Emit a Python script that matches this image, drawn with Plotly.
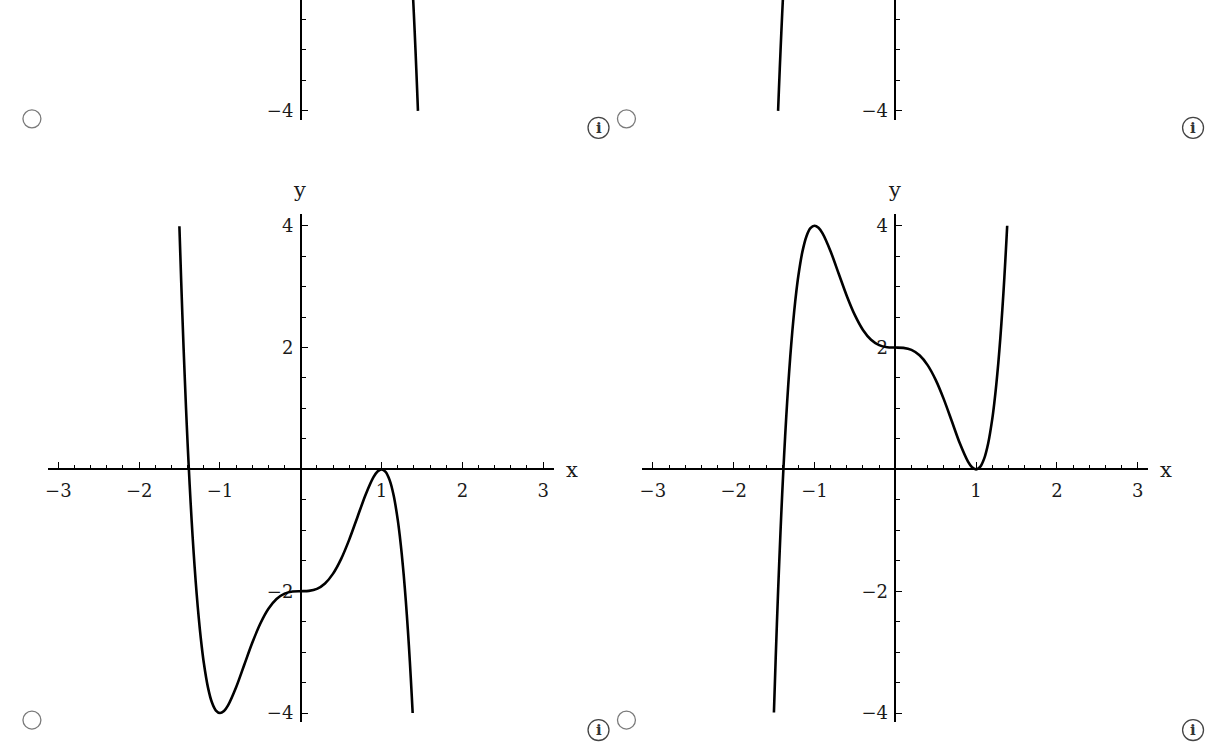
import plotly.graph_objects as go

# ---------------- data ----------------
# bottom-right panel curve
br_x = [-1.502, -1.48, -1.45, -1.42, -1.40, -1.375, -1.35, -1.325, -1.30, -1.275,
        -1.25, -1.225, -1.20, -1.15, -1.10, -1.05, -1.00, -0.95, -0.90, -0.80,
        -0.70, -0.60, -0.50, -0.40, -0.30, -0.20, -0.10, 0.0, 0.10, 0.20,
        0.30, 0.40, 0.50, 0.60, 0.70, 0.80, 0.90, 0.95, 1.00, 1.05,
        1.10, 1.15, 1.20, 1.225, 1.25, 1.275, 1.30, 1.325, 1.35, 1.375, 1.385]
br_y = [-3.99, -3.094, -1.986, -1.004, -0.415, 0.253, 0.850, 1.379, 1.846, 2.255,
        2.610, 2.916, 3.175, 3.570, 3.824, 3.959, 4.000, 3.966, 3.874, 3.577,
        3.211, 2.847, 2.531, 2.289, 2.128, 2.039, 2.005, 2.000, 1.995, 1.961,
        1.872, 1.711, 1.469, 1.153, 0.789, 0.423, 0.127, 0.034, 0.000, 0.041,
        0.177, 0.430, 0.825, 1.084, 1.390, 1.745, 2.154, 2.621, 3.150, 3.747, 4.0]

# bottom-left panel curve
bl_x = [-1.502, -1.48, -1.45, -1.42, -1.40, -1.375, -1.35, -1.325, -1.30, -1.275,
        -1.25, -1.225, -1.20, -1.15, -1.10, -1.05, -1.00, -0.95, -0.90, -0.80,
        -0.70, -0.60, -0.50, -0.40, -0.30, -0.20, -0.10, 0.0, 0.10, 0.20,
        0.30, 0.40, 0.50, 0.60, 0.70, 0.80, 0.90, 0.95, 1.00, 1.05,
        1.10, 1.15, 1.20, 1.225, 1.25, 1.275, 1.30, 1.325, 1.35, 1.375, 1.385]
bl_y = [3.99, 3.094, 1.986, 1.004, 0.415, -0.253, -0.850, -1.379, -1.846, -2.255,
        -2.610, -2.916, -3.175, -3.570, -3.824, -3.959, -4.000, -3.966, -3.874, -3.577,
        -3.211, -2.847, -2.531, -2.289, -2.128, -2.039, -2.005, -2.000, -1.995, -1.961,
        -1.872, -1.711, -1.469, -1.153, -0.789, -0.423, -0.127, -0.034, 0.000, -0.041,
        -0.177, -0.430, -0.825, -1.084, -1.390, -1.745, -2.154, -2.621, -3.150, -3.747, -4.0]

# top panels (only their lower part is visible)
tl_x = [1.36, 1.38, 1.40, 1.42, 1.44, 1.45, 1.4505]
tl_y = [-1.380, -1.874, -2.415, -3.004, -3.645, -3.986, -4.0]
tr_x = [-1.4505, -1.45, -1.44, -1.42, -1.40, -1.38, -1.36]
tr_y = [-4.0, -3.986, -3.645, -3.004, -2.415, -1.874, -1.380]

x_tick_vals = [-3, -2, -1, 1, 2, 3]
x_tick_text = ["\u22123", "\u22122", "\u22121", "1", "2", "3"]
y_tick_vals = [-4, -2, 2, 4]
y_tick_text = ["\u22124", "\u22122", "2", "4"]

# ---------------- layout geometry (pixels) ----------------
W, H = 1212, 750
PXU_X, PXU_Y = 81.0, 61.0
XR = 3.13


def fx(px):
    return px / W


def fy(py):
    return 1 - py / H


FONT = "DejaVu Serif"
TICKFONT = dict(family=FONT, size=18, color="#1a1a1a")

panels = [
    dict(ox=298.5, oy=-133.0, yr=(-4.148, -133.0 / 61.0), showx=False, xs=tl_x, ys=tl_y),
    dict(ox=894.5, oy=-133.0, yr=(-4.148, -133.0 / 61.0), showx=False, xs=tr_x, ys=tr_y),
    dict(ox=298.5, oy=470.0, yr=(-4.15, 4.2), showx=True, xs=bl_x, ys=bl_y),
    dict(ox=894.5, oy=470.0, yr=(-4.15, 4.2), showx=True, xs=br_x, ys=br_y),
]

fig = go.Figure()
layout = dict(
    width=W, height=H,
    margin=dict(l=0, r=0, t=0, b=0),
    paper_bgcolor="white", plot_bgcolor="white",
    showlegend=False,
)
annotations = []
shapes = []

for i, p in enumerate(panels, start=1):
    xn = "x" if i == 1 else f"x{i}"
    yn = "y" if i == 1 else f"y{i}"
    xkey = "xaxis" if i == 1 else f"xaxis{i}"
    ykey = "yaxis" if i == 1 else f"yaxis{i}"
    ox, oy = p["ox"], p["oy"]
    ylo, yhi = p["yr"]
    x_px0, x_px1 = ox - XR * PXU_X, ox + XR * PXU_X
    y_px_top, y_px_bot = oy - yhi * PXU_Y, oy - ylo * PXU_Y

    fig.add_trace(go.Scatter(
        x=p["xs"], y=p["ys"], mode="lines",
        line=dict(color="black", width=2.6, shape="spline", smoothing=0.8),
        xaxis=xn, yaxis=yn, hoverinfo="skip",
    ))

    xa = dict(
        domain=[fx(x_px0), fx(x_px1)], range=[-XR, XR],
        showgrid=False, zeroline=False, layer="below traces",
        fixedrange=True,
    )
    if p["showx"]:
        xa.update(
            anchor="free", position=fy(oy),
            showline=True, linecolor="black", linewidth=1.5,
            tickmode="array", tickvals=x_tick_vals, ticktext=x_tick_text,
            ticks="inside", ticklen=7, tickwidth=1, tickcolor="black",
            tickfont=TICKFONT, ticklabelstandoff=5,
            minor=dict(tickmode="linear", tick0=0, dtick=0.2, ticks="inside",
                       ticklen=4, tickwidth=1, tickcolor="black"),
        )
    else:
        xa.update(anchor=yn, visible=False)
    layout[xkey] = xa

    layout[ykey] = dict(
        domain=[fy(y_px_bot), fy(y_px_top)], range=[ylo, yhi],
        anchor="free", position=fx(ox),
        showgrid=False, zeroline=False, layer="below traces",
        showline=True, linecolor="black", linewidth=1.5,
        tickmode="array", tickvals=y_tick_vals, ticktext=y_tick_text,
        ticks="inside", ticklen=6, tickwidth=1, tickcolor="black",
        tickfont=TICKFONT, ticklabelstandoff=3,
        minor=dict(tickmode="linear", tick0=0, dtick=0.5, ticks="inside",
                   ticklen=4, tickwidth=1, tickcolor="black"),
        fixedrange=True,
    )

    if p["showx"]:
        annotations.append(dict(
            text="x", x=fx(x_px1 + 18), y=fy(oy + 1), xref="paper", yref="paper",
            xanchor="center", yanchor="middle", showarrow=False,
            font=dict(family=FONT, size=21, color="#1a1a1a"),
        ))
        annotations.append(dict(
            text="y", x=fx(ox - 1), y=fy(190), xref="paper", yref="paper",
            xanchor="center", yanchor="middle", showarrow=False,
            font=dict(family=FONT, size=21, color="#1a1a1a"),
        ))

# radio circles and info icons
radio_centers = [(29, 119), (625, 119), (29, 721), (625, 721)]
info_centers = [(597, 128), (1193, 128), (597, 731), (1193, 731)]
for cx, cy in radio_centers:
    r = 9
    shapes.append(dict(type="circle", xref="paper", yref="paper",
                       x0=fx(cx - r), x1=fx(cx + r), y0=fy(cy + r), y1=fy(cy - r),
                       line=dict(color="#7a7a7a", width=1.3)))
for cx, cy in info_centers:
    r = 10.5
    shapes.append(dict(type="circle", xref="paper", yref="paper",
                       x0=fx(cx - r), x1=fx(cx + r), y0=fy(cy + r), y1=fy(cy - r),
                       line=dict(color="#444", width=1.3)))
    annotations.append(dict(
        text="<b>i</b>", x=fx(cx), y=fy(cy), xref="paper", yref="paper",
        xanchor="center", yanchor="middle", showarrow=False,
        font=dict(family=FONT, size=15, color="#333"),
    ))

layout["annotations"] = annotations
layout["shapes"] = shapes
fig.update_layout(**layout)
fig.write_html(
    "out.html",
    config={"displayModeBar": False},
    post_script="document.body.style.margin='0';document.body.style.padding='0';",
)
